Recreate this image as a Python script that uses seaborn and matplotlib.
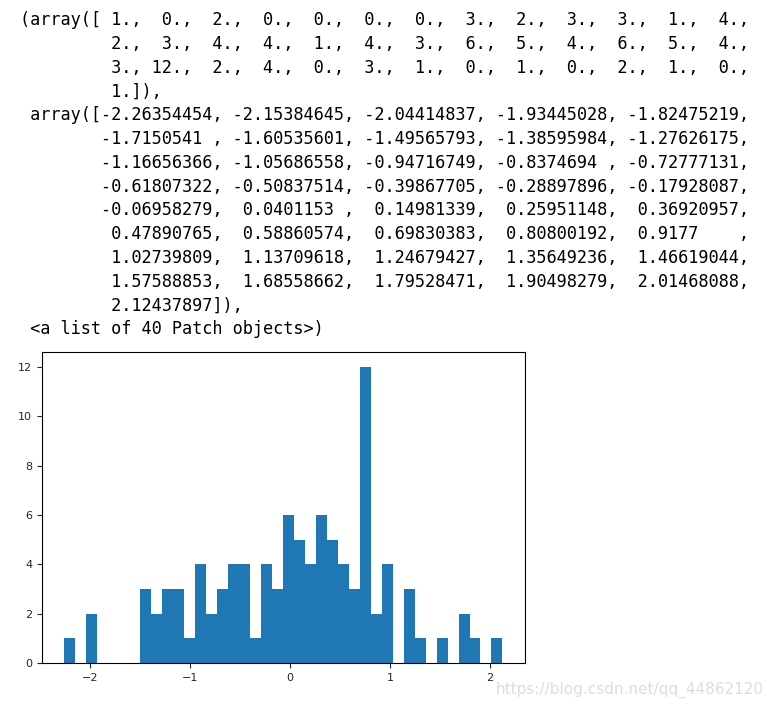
import numpy as np
import matplotlib.pyplot as plt
import seaborn as sns

# histogram output values as printed in the notebook
counts = [1, 0, 2, 0, 0, 0, 0, 3, 2, 3, 3, 1, 4,
          2, 3, 4, 4, 1, 4, 3, 6, 5, 4, 6, 5, 4,
          3, 12, 2, 4, 0, 3, 1, 0, 1, 0, 2, 1, 0, 1]
edges = [-2.26354454, -2.15384645, -2.04414837, -1.93445028, -1.82475219,
         -1.7150541, -1.60535601, -1.49565793, -1.38595984, -1.27626175,
         -1.16656366, -1.05686558, -0.94716749, -0.8374694, -0.72777131,
         -0.61807322, -0.50837514, -0.39867705, -0.28897896, -0.17928087,
         -0.06958279, 0.0401153, 0.14981339, 0.25951148, 0.36920957,
         0.47890765, 0.58860574, 0.69830383, 0.80800192, 0.9177,
         1.02739809, 1.13709618, 1.24679427, 1.35649236, 1.46619044,
         1.57588853, 1.68558662, 1.79528471, 1.90498279, 2.01468088,
         2.12437897]

output_lines = [
    "(array([ 1.,  0.,  2.,  0.,  0.,  0.,  0.,  3.,  2.,  3.,  3.,  1.,  4.,",
    "         2.,  3.,  4.,  4.,  1.,  4.,  3.,  6.,  5.,  4.,  6.,  5.,  4.,",
    "         3., 12.,  2.,  4.,  0.,  3.,  1.,  0.,  1.,  0.,  2.,  1.,  0.,",
    "         1.]),",
    " array([-2.26354454, -2.15384645, -2.04414837, -1.93445028, -1.82475219,",
    "        -1.7150541 , -1.60535601, -1.49565793, -1.38595984, -1.27626175,",
    "        -1.16656366, -1.05686558, -0.94716749, -0.8374694 , -0.72777131,",
    "        -0.61807322, -0.50837514, -0.39867705, -0.28897896, -0.17928087,",
    "        -0.06958279,  0.0401153 ,  0.14981339,  0.25951148,  0.36920957,",
    "         0.47890765,  0.58860574,  0.69830383,  0.80800192,  0.9177    ,",
    "         1.02739809,  1.13709618,  1.24679427,  1.35649236,  1.46619044,",
    "         1.57588853,  1.68558662,  1.79528471,  1.90498279,  2.01468088,",
    "         2.12437897]),",
    " <a list of 40 Patch objects>)",
]

sns.set_style("ticks")
plt.rcParams['font.family'] = ['DejaVu Sans']

fig = plt.figure(figsize=(7.72, 7.09), dpi=100)
W, H = 772, 709

for i, line in enumerate(output_lines):
    y = 20 + 23.8 * i
    fig.text(20 / W, 1 - y / H, line, family='DejaVu Sans Mono', fontsize=12.2,
             va='center', ha='left', color='#000000')

ax = fig.add_axes([42 / W, 1 - 663 / H, (525 - 42) / W, (663 - 352) / H])
sns.histplot(x=edges[:-1], weights=counts, bins=edges, color='#1f77b4',
             alpha=1, linewidth=0, ax=ax)
ax.set_xlim(-2.48, 2.35)
ax.set_ylim(0, 12.6)
ax.set_yticks(range(0, 13, 2))
ax.set_xticks([-2, -1, 0, 1, 2])
ax.set_ylabel('')
ax.set_xlabel('')
ax.tick_params(labelsize=8)
for s in ax.spines.values():
    s.set_visible(True)
    s.set_color('black')
    s.set_linewidth(0.8)

fig.text(1 - 8 / W, 1 - 690 / H, "https://blog.csdn.net/qq_44862120",
         ha='right', va='center', fontsize=11, color='#dddddd')

fig.savefig('out.png', dpi=100)
